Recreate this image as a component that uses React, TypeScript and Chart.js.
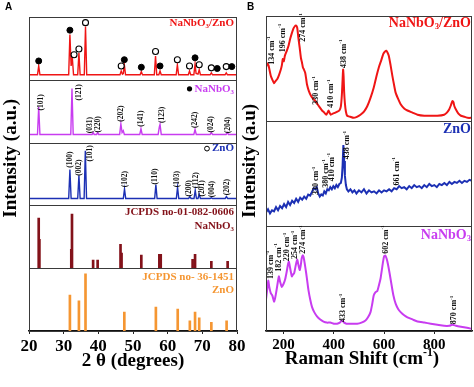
import React, { useEffect, useRef } from 'react';
import { Chart, registerables } from 'chart.js';

Chart.register(...registerables);

// ---------------- Panel A : XRD ----------------
const xrdTicks = [20, 30, 40, 50, 60, 70, 80];

// NaNbO3/ZnO composite pattern [2θ, intensity]
const compositeXrd: [number, number][] = [
  [20, 8], [22.45, 8], [22.8, 22], [23.15, 8], [31.45, 8], [31.8, 72], [32.15, 22], [32.5, 35], [32.85, 8],
  [34.05, 8], [34.4, 43], [34.75, 8], [35.95, 8], [36.3, 85], [36.65, 8], [46.25, 8], [46.6, 14], [46.95, 9],
  [47.2, 10], [47.5, 24], [47.85, 8], [52.05, 8], [52.4, 13], [52.75, 8], [56.15, 8], [56.5, 38], [56.85, 8],
  [57.45, 8], [57.8, 14], [58.15, 8], [62.45, 8], [62.8, 24], [63.15, 8], [65.95, 8], [66.3, 14], [66.65, 8],
  [67.55, 8], [67.9, 25], [68.2, 10], [68.75, 9], [69.1, 16], [69.45, 8], [72.25, 8], [72.6, 11], [72.95, 8],
  [76.55, 8], [76.9, 11], [77.25, 8], [80, 8],
];
// phase markers on the composite pattern (● NaNbO3, ○ ZnO)
const compositeNaNbO3Marks: [number, number][] = [
  [22.8, 30], [31.8, 79], [47.5, 32], [52.4, 20], [57.8, 22], [67.9, 35], [74.3, 18], [78.5, 21],
];
const compositeZnOMarks: [number, number][] = [
  [33.0, 40], [34.4, 49], [36.3, 91], [46.6, 22], [56.5, 45], [62.8, 32], [66.3, 22], [69.1, 24], [72.6, 19], [76.9, 21],
];

// pure NaNbO3 pattern
const nanbo3Xrd: [number, number][] = [
  [20, 13], [22.45, 13], [22.8, 57], [23.15, 13], [32.05, 13], [32.4, 86], [32.75, 13], [38.2, 13], [38.5, 16],
  [38.8, 13], [39.5, 13], [39.8, 16], [40.1, 13], [46.15, 13], [46.5, 30], [46.85, 16], [47.2, 19], [47.5, 13],
  [51.95, 13], [52.3, 22], [52.65, 13], [57.25, 13], [57.6, 25], [57.8, 29], [58.15, 13], [67.55, 13], [67.9, 21],
  [68.25, 13], [72.25, 13], [72.6, 16], [72.95, 13], [76.85, 13], [77.2, 16], [77.55, 13], [80, 13],
];
const nanbo3Planes = ['(101)', '(121)', '(031)', '(220)', '(202)', '(141)', '(123)', '(242)', '(024)', '(204)'];
const nanbo3PlaneAngles = [23.4, 34.4, 37.6, 40.0, 46.5, 52.4, 58.3, 68.0, 72.6, 77.3];
const nanbo3PlaneLevels = [64, 80, 28, 29, 46, 38, 44, 36, 29, 28];

// pure ZnO pattern
const znoXrd: [number, number][] = [
  [20, 11], [31.45, 11], [31.8, 57], [32.15, 11], [34.05, 11], [34.4, 48], [34.75, 11], [35.9, 11], [36.25, 87],
  [36.6, 11], [47.2, 11], [47.55, 26], [47.9, 11], [56.25, 11], [56.6, 33], [56.95, 11], [62.5, 11], [62.85, 29],
  [63.2, 11], [66.05, 11], [66.4, 14], [66.75, 11], [67.6, 11], [67.95, 24], [68.3, 11], [68.75, 11], [69.1, 18],
  [69.45, 11], [72.25, 11], [72.6, 12], [72.95, 11], [76.6, 11], [76.95, 14], [77.3, 11], [80, 11],
];
const znoPlanes = ['(100)', '(002)', '(101)', '(102)', '(110)', '(103)', '(200)', '(112)', '(201)', '(004)', '(202)'];
const znoPlaneAngles = [31.8, 34.4, 37.7, 47.6, 56.5, 62.8, 66.2, 68.1, 69.9, 72.7, 77.1];
const znoPlaneLevels = [73, 60, 83, 42, 46, 42, 27, 40, 27, 26, 29];

// JCPDS reference sticks
const nanbo3RefAngles = [22.8, 23.0, 32.2, 32.4, 38.5, 39.8, 46.4, 46.7, 52.4, 57.6, 58.0, 67.2, 67.9, 72.6, 77.3];
const nanbo3RefIntensity = [80, 46, 30, 86, 13, 13, 38, 24, 21, 22, 22, 14, 22, 11, 11];
const znoRefAngles = [31.8, 34.4, 36.3, 47.5, 56.6, 62.9, 66.4, 67.9, 69.1, 72.6, 77.0];
const znoRefIntensity = [57, 48, 91, 30, 38, 35, 16, 30, 21, 14, 16];

// ---------------- Panel B : Raman ----------------
const ramanTicks = [200, 400, 600, 800];

const ramanComposite: [number, number][] = [
  [130, 51], [134, 55], [140, 53], [149, 43], [156, 39], [162, 36], [168, 38], [175, 40], [182, 44], [189, 49],
  [193, 53], [197, 59], [201, 57], [205, 62], [213, 67], [220, 72], [226, 78], [232, 83], [239, 88], [244, 90],
  [249, 91], [254, 89], [259, 79], [264, 70], [269, 60], [273, 56], [277, 51], [281, 49], [286, 46], [290, 40],
  [293, 35], [300, 29], [309, 24], [318, 21], [326, 19], [330, 18], [335, 16], [344, 13], [353, 10], [362, 8],
  [370, 6], [375, 8], [379, 10], [383, 8], [388, 6], [396, 7], [406, 8], [414, 9], [422, 10], [428, 14],
  [432, 25], [435, 40], [437, 49], [439, 42], [441, 28], [444, 17], [448, 9], [453, 5], [465, 4], [479, 3],
  [492, 4], [506, 6], [520, 9], [533, 14], [546, 22], [559, 32], [569, 42], [579, 51], [589, 58], [597, 64],
  [603, 66], [609, 67], [614, 65], [619, 62], [626, 53], [633, 43], [640, 34], [646, 27], [656, 21], [666, 16],
  [680, 12], [693, 10], [713, 8], [733, 6], [760, 5], [786, 5], [812, 5], [839, 6], [850, 8], [859, 11],
  [866, 15], [872, 19], [876, 18], [880, 14], [886, 11], [896, 7], [906, 5], [920, 4], [933, 3], [950, 3],
];
const compositeModes = ['134 cm^-1', '196 cm^-1', '274 cm^-1', '330 cm^-1', '410 cm^-1', '438 cm^-1'];
const compositeModeShifts = [153, 197, 278, 330, 390, 439];
const compositeModeLevels = [67, 79, 89, 29, 26, 64];

const ramanZnO: [number, number][] = [
  [130, 13], [138, 16], [146, 12], [154, 15], [162, 14], [170, 18], [178, 15], [186, 19], [194, 17], [202, 21],
  [210, 18], [218, 23], [226, 20], [234, 24], [242, 22], [250, 26], [258, 23], [266, 27], [274, 25], [282, 28],
  [290, 26], [298, 30], [306, 29], [314, 33], [320, 36], [326, 35], [332, 37], [338, 31], [344, 28], [350, 30],
  [356, 29], [362, 33], [368, 31], [374, 35], [380, 34], [386, 37], [392, 35], [398, 38], [404, 36], [410, 39],
  [416, 37], [422, 40], [428, 41], [432, 46], [435, 58], [438, 77], [441, 62], [444, 48], [448, 39], [452, 35],
  [458, 33], [466, 35], [474, 32], [482, 34], [490, 31], [500, 34], [510, 32], [520, 35], [530, 31], [540, 34],
  [550, 32], [560, 33], [570, 31], [580, 34], [590, 32], [600, 34], [610, 33], [620, 35], [630, 33], [640, 36],
  [650, 35], [660, 38], [670, 36], [680, 37], [690, 35], [700, 38], [710, 36], [720, 39], [730, 37], [740, 38],
  [750, 36], [760, 39], [770, 37], [780, 40], [790, 38], [800, 39], [810, 37], [820, 40], [830, 39], [840, 41],
  [850, 39], [860, 42], [870, 40], [880, 42], [890, 41], [900, 43], [910, 41], [920, 43], [930, 42], [940, 44],
  [950, 43],
];
const znoModes = ['330 cm^-1', '380 cm^-1', '410 cm^-1', '438 cm^-1', '661 cm^-1'];
const znoModeShifts = [330, 370, 392, 452, 650];
const znoModeLevels = [43, 50, 56, 77, 52];

const ramanNaNbO3: [number, number][] = [
  [130, 30], [135, 40], [139, 48], [143, 42], [149, 36], [155, 34], [162, 28], [166, 31], [170, 36], [176, 45],
  [181, 52], [186, 47], [193, 42], [200, 45], [206, 49], [212, 56], [218, 64], [221, 66], [226, 60], [233, 52],
  [238, 54], [242, 55], [248, 62], [254, 68], [259, 63], [264, 58], [268, 62], [272, 69], [276, 72], [280, 70],
  [285, 63], [290, 55], [295, 46], [299, 39], [306, 30], [313, 23], [322, 18], [333, 14], [346, 11], [359, 9],
  [372, 8], [386, 8], [400, 7], [413, 7], [424, 8], [433, 10], [441, 8], [450, 7], [470, 7], [493, 7],
  [510, 8], [526, 10], [536, 13], [546, 18], [553, 26], [559, 34], [566, 37], [573, 38], [580, 44], [586, 50],
  [591, 58], [596, 66], [600, 71], [605, 72], [610, 69], [615, 64], [622, 55], [629, 45], [637, 34], [646, 26],
  [656, 21], [666, 18], [680, 15], [693, 13], [713, 11], [733, 9], [760, 8], [786, 7], [812, 6], [839, 5],
  [860, 5], [873, 6], [886, 5], [906, 4], [930, 3], [950, 2],
];
const nanbo3Modes = ['139 cm^-1', '182 cm^-1', '220 cm^-1', '254 cm^-1', '274 cm^-1', '433 cm^-1', '602 cm^-1', '870 cm^-1'];
const nanbo3ModeShifts = [149, 180, 214, 247, 277, 438, 607, 878];
const nanbo3ModeLevels = [63, 70, 80, 82, 87, 22, 87, 20];

// ---------------- styles ----------------
const SERIF = '"Liberation Serif", "Times New Roman", serif';
const SANS = '"Liberation Sans", Arial, sans-serif';
const RED = '#ef1515';
const MAGENTA = '#c83cf0';
const BLUE = '#1c30b4';
const DARKRED = '#83121a';
const ORANGE = '#f59632';
const FRAME = '#3a3a3a';

type Seg = { text: string; mode: 'n' | 'sub' | 'sup' };

function parseRich(s: string): Seg[] {
  const out: Seg[] = [];
  const re = /_(\d+)|\^(-?\d+)/g;
  let last = 0;
  let m: RegExpExecArray | null;
  while ((m = re.exec(s))) {
    if (m.index > last) out.push({ text: s.slice(last, m.index), mode: 'n' });
    if (m[1]) out.push({ text: m[1], mode: 'sub' });
    else out.push({ text: m[2], mode: 'sup' });
    last = re.lastIndex;
  }
  if (last < s.length) out.push({ text: s.slice(last), mode: 'n' });
  return out;
}

function fontStr(size: number) {
  return `bold ${size}px ${SERIF}`;
}

function drawRich(ctx: CanvasRenderingContext2D, str: string, x: number, y: number, size: number, color: string, align: 'left' | 'center' | 'right') {
  const segs = parseRich(str);
  let w = 0;
  for (const g of segs) {
    ctx.font = fontStr(g.mode === 'n' ? size : size * 0.62);
    w += ctx.measureText(g.text).width;
  }
  let cx = align === 'left' ? x : align === 'center' ? x - w / 2 : x - w;
  const start = cx;
  ctx.fillStyle = color;
  ctx.textBaseline = 'middle';
  ctx.textAlign = 'left';
  for (const g of segs) {
    const sz = g.mode === 'n' ? size : size * 0.62;
    ctx.font = fontStr(sz);
    const dy = g.mode === 'sub' ? size * 0.28 : g.mode === 'sup' ? -size * 0.33 : 0;
    ctx.fillText(g.text, cx, y + dy);
    cx += ctx.measureText(g.text).width;
  }
  return start;
}

function drawRotated(ctx: CanvasRenderingContext2D, str: string, x: number, y: number, size: number, color: string) {
  ctx.save();
  ctx.translate(x, y);
  ctx.rotate(-Math.PI / 2);
  drawRich(ctx, str, 0, 0, size, color, 'center');
  ctx.restore();
}

function drawFrames(chart: any, ids: string[]) {
  const { ctx, chartArea: a, scales } = chart;
  ctx.strokeStyle = FRAME;
  ctx.lineWidth = 1;
  for (const id of ids) {
    const s = scales[id];
    const t = Math.round(s.top) + 0.5;
    const b = Math.round(s.bottom) + 0.5;
    ctx.strokeRect(Math.round(a.left) + 0.5, t, Math.round(a.right - a.left) - 1, b - t);
  }
}

const pts = (arr: [number, number][]) => arr.map(([x, y]) => ({ x, y }));
const sticks = (xs: number[], ys: number[]) => xs.map((x, i) => ({ x, y: ys[i] }));

function stackedY(stack: string) {
  return { type: 'linear', position: 'left', stack, stackWeight: 1, min: 0, max: 100, display: false };
}

// top-to-bottom order of the sub-panels
const xrdIds = ['yA1', 'yA2', 'yA3', 'yA4', 'yA5'];
const ramanIds = ['yB1', 'yB2', 'yB3'];

// Chart.js places the first stacked axis at the bottom, so build the scale map bottom-up
function stackScales(ids: string[], stack: string) {
  const out: Record<string, any> = {};
  [...ids].reverse().forEach((id) => {
    out[id] = stackedY(stack);
  });
  return out;
}

const xrdDecor = {
  id: 'xrdDecor',
  afterDatasetsDraw(chart: any) {
    const { ctx, chartArea: a, scales } = chart;
    const x = scales.x;
    ctx.save();
    drawFrames(chart, xrdIds);
    const [s1, s2, s3, s4, s5] = xrdIds.map((id) => scales[id]);
    const R = a.right - 3;
    drawRich(ctx, 'NaNbO_3/ZnO', R, s1.top + 6, 11, RED, 'right');

    const l2 = drawRich(ctx, 'NaNbO_3', R, s2.top + 9, 11, MAGENTA, 'right');
    ctx.beginPath();
    ctx.arc(l2 - 5, s2.top + 9, 2.6, 0, Math.PI * 2);
    ctx.fillStyle = '#000';
    ctx.fill();

    const l3 = drawRich(ctx, 'ZnO', R, s3.top + 6, 11, BLUE, 'right');
    ctx.beginPath();
    ctx.arc(l3 - 5, s3.top + 6, 2.4, 0, Math.PI * 2);
    ctx.strokeStyle = '#000';
    ctx.lineWidth = 1;
    ctx.stroke();

    drawRich(ctx, 'JCPDS no-01-082-0606', R, s4.top + 7, 11, DARKRED, 'right');
    drawRich(ctx, 'NaNbO_3', R, s4.top + 21, 11, DARKRED, 'right');
    drawRich(ctx, 'JCPDS no- 36-1451', R, s5.top + 9, 11, ORANGE, 'right');
    drawRich(ctx, 'ZnO', R, s5.top + 22, 11, ORANGE, 'right');

    nanbo3Planes.forEach((t, i) =>
      drawRotated(ctx, t, x.getPixelForValue(nanbo3PlaneAngles[i]), s2.getPixelForValue(nanbo3PlaneLevels[i]), 7.5, '#111'));
    znoPlanes.forEach((t, i) =>
      drawRotated(ctx, t, x.getPixelForValue(znoPlaneAngles[i]), s3.getPixelForValue(znoPlaneLevels[i]), 7.5, '#111'));

    drawRotated(ctx, 'Intensity (a.u.)', 11, a.top + 0.45 * (a.bottom - a.top), 19, '#000');
    drawRich(ctx, '2 θ (degrees)', (a.left + a.right) / 2, a.bottom + 30, 19, '#000', 'center');

    ctx.font = `bold 10px ${SANS}`;
    ctx.fillStyle = '#000';
    ctx.textAlign = 'left';
    ctx.textBaseline = 'middle';
    ctx.fillText('A', 5, 7);
    ctx.restore();
  },
};

const ramanDecor = {
  id: 'ramanDecor',
  afterDatasetsDraw(chart: any) {
    const { ctx, chartArea: a, scales } = chart;
    const x = scales.x;
    ctx.save();
    drawFrames(chart, ramanIds);
    const [s1, s2, s3] = ramanIds.map((id) => scales[id]);
    const R = a.right - 1;
    drawRich(ctx, 'NaNbO_3/ZnO', R, s1.top + 7, 14, RED, 'right');
    drawRich(ctx, 'ZnO', R, s2.top + 8, 14, BLUE, 'right');
    drawRich(ctx, 'NaNbO_3', R, s3.top + 9, 14, MAGENTA, 'right');

    compositeModes.forEach((t, i) =>
      drawRotated(ctx, t, x.getPixelForValue(compositeModeShifts[i]), s1.getPixelForValue(compositeModeLevels[i]), 8, '#111'));
    znoModes.forEach((t, i) =>
      drawRotated(ctx, t, x.getPixelForValue(znoModeShifts[i]), s2.getPixelForValue(znoModeLevels[i]), 8, '#111'));
    nanbo3Modes.forEach((t, i) =>
      drawRotated(ctx, t, x.getPixelForValue(nanbo3ModeShifts[i]), s3.getPixelForValue(nanbo3ModeLevels[i]), 8, '#111'));

    drawRotated(ctx, 'Intensity (a.u)', a.left - 16, a.top + 0.46 * (a.bottom - a.top), 19, '#000');
    drawRich(ctx, 'Raman Shift (cm^-1)', (a.left + a.right) / 2 - 7, a.bottom + 28, 19, '#000', 'center');

    ctx.font = `bold 10px ${SANS}`;
    ctx.fillStyle = '#000';
    ctx.textAlign = 'left';
    ctx.textBaseline = 'middle';
    ctx.fillText('B', 7, 7);
    ctx.restore();
  },
};

function xAxis(min: number, max: number, tickValues: number[], size: number) {
  return {
    type: 'linear',
    position: 'bottom',
    min,
    max,
    offset: false,
    afterBuildTicks: (s: any) => {
      s.ticks = tickValues.map((v) => ({ value: v }));
    },
    afterFit: (s: any) => {
      s.height = 56;
      s.paddingLeft = 0;
      s.paddingRight = 0;
    },
    ticks: {
      autoSkip: false,
      maxRotation: 0,
      padding: 2,
      color: '#000',
      font: { family: SERIF, size, weight: 'bold' },
    },
    grid: { display: true, offset: false, drawOnChartArea: false, drawTicks: true, tickLength: 3, color: '#222' },
    border: { display: true, color: '#111', width: 1.5 },
  };
}

function makeXrd(canvas: HTMLCanvasElement) {
  return new Chart(canvas, {
    type: 'line',
    data: {
      datasets: [
        { type: 'scatter', data: pts(compositeNaNbO3Marks), yAxisID: 'yA1', pointRadius: 3, pointBackgroundColor: '#000', pointBorderColor: '#000', pointBorderWidth: 1 },
        { type: 'scatter', data: pts(compositeZnOMarks), yAxisID: 'yA1', pointRadius: 3, pointBackgroundColor: '#fff', pointBorderColor: '#000', pointBorderWidth: 1.1 },
        { type: 'line', data: pts(compositeXrd), yAxisID: 'yA1', borderColor: RED, borderWidth: 1.4, pointRadius: 0, tension: 0, fill: false },
        { type: 'line', data: pts(nanbo3Xrd), yAxisID: 'yA2', borderColor: MAGENTA, borderWidth: 1.4, pointRadius: 0, tension: 0, fill: false },
        { type: 'line', data: pts(znoXrd), yAxisID: 'yA3', borderColor: BLUE, borderWidth: 1.4, pointRadius: 0, tension: 0, fill: false },
        { type: 'bar', data: sticks(nanbo3RefAngles, nanbo3RefIntensity), yAxisID: 'yA4', backgroundColor: DARKRED, barThickness: 2, grouped: false },
        { type: 'bar', data: sticks(znoRefAngles, znoRefIntensity), yAxisID: 'yA5', backgroundColor: ORANGE, barThickness: 2, grouped: false },
      ],
    },
    options: {
      responsive: false,
      animation: false,
      events: [],
      layout: { padding: { left: 29, right: 13, top: 17, bottom: 0 } },
      plugins: { legend: { display: false }, tooltip: { enabled: false } },
      scales: {
        x: xAxis(20, 80, xrdTicks, 17),
        ...stackScales(xrdIds, 'xrd'),
      },
    } as any,
    plugins: [xrdDecor],
  } as any);
}

function makeRaman(canvas: HTMLCanvasElement) {
  return new Chart(canvas, {
    type: 'line',
    data: {
      datasets: [
        { data: pts(ramanComposite), yAxisID: 'yB1', borderColor: RED, borderWidth: 2, pointRadius: 0, tension: 0.2, fill: false },
        { data: pts(ramanZnO), yAxisID: 'yB2', borderColor: BLUE, borderWidth: 2, pointRadius: 0, tension: 0, fill: false },
        { data: pts(ramanNaNbO3), yAxisID: 'yB3', borderColor: MAGENTA, borderWidth: 2, pointRadius: 0, tension: 0.2, fill: false },
      ],
    },
    options: {
      responsive: false,
      animation: false,
      events: [],
      layout: { padding: { left: 26, right: 2, top: 16, bottom: 0 } },
      plugins: { legend: { display: false }, tooltip: { enabled: false } },
      scales: {
        x: xAxis(130, 950, ramanTicks, 15),
        ...stackScales(ramanIds, 'raman'),
      },
    } as any,
    plugins: [ramanDecor],
  } as any);
}

export default function App() {
  const refA = useRef<HTMLCanvasElement>(null);
  const refB = useRef<HTMLCanvasElement>(null);
  useEffect(() => {
    const a = makeXrd(refA.current!);
    const b = makeRaman(refB.current!);
    return () => {
      a.destroy();
      b.destroy();
    };
  }, []);
  return (
    <div style={{ position: 'absolute', left: 0, top: 0, width: 474, height: 387, background: '#fff', overflow: 'hidden' }}>
      <canvas ref={refA} width={250} height={387} style={{ position: 'absolute', left: 0, top: 0, width: 250, height: 387 }} />
      <canvas ref={refB} width={234} height={387} style={{ position: 'absolute', left: 240, top: 0, width: 234, height: 387 }} />
    </div>
  );
}
